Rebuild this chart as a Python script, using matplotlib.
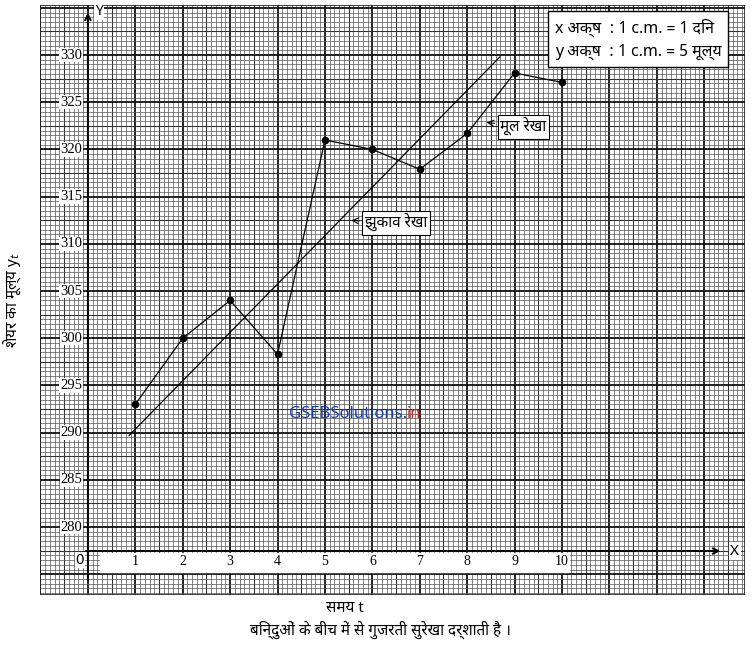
import matplotlib.pyplot as plt
from matplotlib.patches import Rectangle

plt.rcParams['font.family'] = ['Noto Sans Devanagari', 'Lohit Devanagari', 'FreeSerif', 'Liberation Serif', 'DejaVu Sans']

days = [1, 2, 3, 4, 5, 6, 7, 8, 9, 10]
prices = [293.0, 300.0, 304.0, 298.3, 321.0, 320.0, 317.9, 321.7, 328.1, 327.1]
trend_x = [0.87, 8.69]
trend_y = [289.7, 329.8]
y_ticks = [280, 285, 290, 295, 300, 305, 310, 315, 320, 325, 330]

# data limits chosen so the graph paper fills the same region as the scan
x0, x1 = -1.01, 13.86
y0, y1 = 272.8, 335.3
y_axis_level = 277.46

fig = plt.figure(figsize=(7.54, 6.45), dpi=100)
ax = fig.add_axes([40 / 754, 50 / 645, 705 / 754, 590 / 645])
ax.set_xlim(x0, x1)
ax.set_ylim(y0, y1)
ax.axis('off')

# graph paper
k = -10
while k / 10 <= x1:
    xv = k / 10
    if k % 10 == 0:
        lw, c = 1.3, '#111111'
    elif k % 5 == 0:
        lw, c = 0.8, '#333333'
    else:
        lw, c = 0.5, '#555555'
    if xv >= x0:
        ax.plot([xv, xv], [y0, y1], color=c, lw=lw, zorder=1)
    k += 1
k = 0
while 272.5 + k * 0.5 <= y1:
    yv = 272.5 + k * 0.5
    if yv % 5 == 0:
        lw, c = 1.3, '#111111'
    elif yv % 2.5 == 0:
        lw, c = 0.8, '#333333'
    else:
        lw, c = 0.5, '#555555'
    if yv >= y0:
        ax.plot([x0, x1], [yv, yv], color=c, lw=lw, zorder=1)
    k += 1
ax.add_patch(Rectangle((x0, y0), x1 - x0, y1 - y0, fill=False, lw=1.2, color='#222222', zorder=2))

# white strip for x tick labels
ax.add_patch(Rectangle((0.25, 275.2), 9.9, 2.1, color='white', zorder=3))

# axes
ax.annotate('', xy=(13.4, y_axis_level), xytext=(-0.1, y_axis_level),
            arrowprops=dict(arrowstyle='->', lw=1.4, color='black'), zorder=4)
ax.annotate('', xy=(0, 334.8), xytext=(0, 274.0),
            arrowprops=dict(arrowstyle='->', lw=1.4, color='black'), zorder=4)
ax.text(13.55, y_axis_level, 'X', fontsize=11, va='center', zorder=5,
        bbox=dict(fc='white', ec='none', pad=1))
ax.text(0.15, 334.6, 'Y', fontsize=10, va='center', zorder=5,
        bbox=dict(fc='white', ec='none', pad=0.5))
ax.text(-0.17, 276.5, '0', fontsize=11, ha='center', va='center', zorder=5,
        bbox=dict(fc='white', ec='none', pad=0.5))
for d in days:
    ax.text(d, 276.3, str(d), fontsize=10, ha='center', va='center', family='Liberation Serif', zorder=5)
for v in y_ticks:
    ax.text(-0.12, v, str(v), fontsize=10.5, ha='right', va='center', family='Liberation Serif', zorder=5,
            bbox=dict(fc='white', ec='none', pad=0.5))

# data
ax.plot(days, prices, color='black', lw=0.9, marker='o', ms=4.5, zorder=6)
ax.plot(trend_x, trend_y, color='black', lw=0.9, zorder=6)

# legend box
ax.text(9.85, 333.9, 'x अक्ष  : 1 c.m. = 1 दिन \ny अक्ष  : 1 c.m. = 5 मूल्य', fontsize=11.5,
        ha='left', va='top', linespacing=1.6, zorder=7,
        bbox=dict(fc='white', ec='black', lw=1, pad=5))

ax.annotate('मूल रेखा', xy=(8.35, 322.9), xytext=(8.7, 322.4), fontsize=11, va='center', zorder=7,
            bbox=dict(fc='white', ec='black', lw=0.8, pad=2),
            arrowprops=dict(arrowstyle='->', lw=0.8))
ax.annotate('झुकाव रेखा', xy=(5.5, 312.5), xytext=(5.85, 312.2), fontsize=11, va='center', zorder=7,
            bbox=dict(fc='white', ec='black', lw=0.8, pad=2),
            arrowprops=dict(arrowstyle='->', lw=0.8))

ax.text(4.25, 292.0, 'GSEBSolutions.', fontsize=12, color='#1a3fb0', fontweight='bold',
        ha='left', va='center', zorder=7)
ax.text(6.72, 292.0, 'in', fontsize=12, color='#d02020', fontweight='bold',
        ha='left', va='center', zorder=7)

fig.text(12 / 754, 1 - 300 / 645, 'शेयर का मूल्य y$_t$', rotation=90, fontsize=11, ha='center', va='center')
fig.text(345 / 754, 1 - 608 / 645, 'समय t', fontsize=11, ha='center', va='center')
fig.text(380 / 754, 1 - 630 / 645, 'बिन्दुओं के बीच में से गुजरती सुरेखा दर्शाती है ।', fontsize=11,
         ha='center', va='center')

fig.savefig('out.png', dpi=100)
